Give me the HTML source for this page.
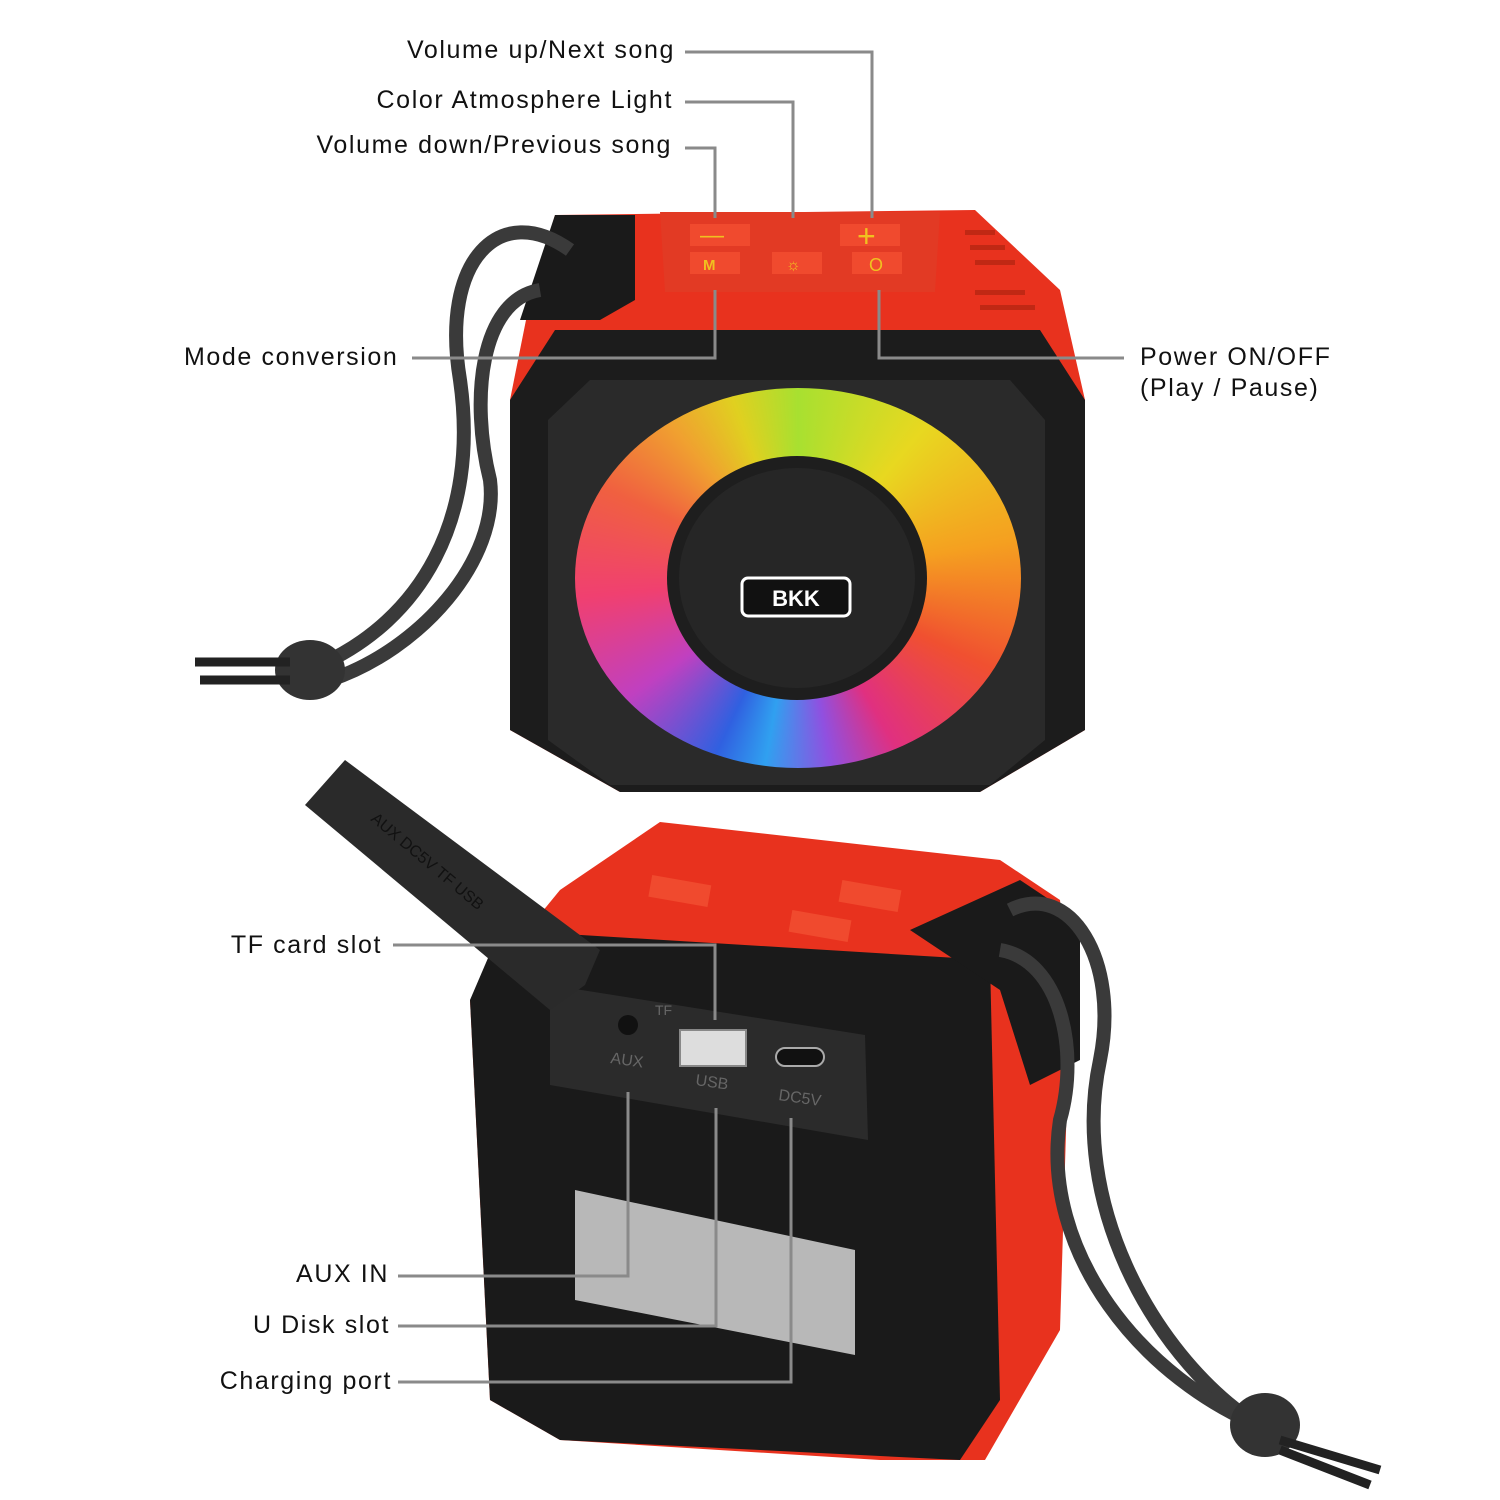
<!DOCTYPE html>
<html><head><meta charset="utf-8"><style>
html,body{margin:0;padding:0;background:#fff}
#w{position:relative;width:1500px;height:1500px;overflow:hidden;background:#fff;font-family:"Liberation Sans",sans-serif}
svg{position:absolute;left:0;top:0}
.ring{position:absolute;left:575px;top:388px;width:446px;height:380px;border-radius:50%;
background:conic-gradient(from 0deg,#a8e030,#e8d820 40deg,#f5a020 80deg,#f05030 115deg,#e03080 150deg,#9050e0 170deg,#30a0f0 190deg,#3060e0 205deg,#c040c0 235deg,#f04070 265deg,#f06040 295deg,#f0a030 320deg,#e0d020 340deg,#a8e030)}
.t{position:absolute;font-size:25px;color:#111;letter-spacing:1.6px;white-space:nowrap}
</style></head><body><div id="w">
<svg width="1500" height="1500">
<polygon points="555,215 975,210 1060,290 1085,400 1085,730 980,792 620,792 510,730 510,400 530,300" fill="#e8321e"/>
<polygon points="660,212 940,212 935,292 665,292" fill="#e23a24"/>
<polygon points="555,330 1040,330 1085,400 1085,730 980,792 620,792 510,730 510,400" fill="#1c1c1c"/>
<polygon points="590,380 1010,380 1045,420 1045,740 990,785 610,785 548,740 548,420" fill="#2a2a2a"/>
<rect x="690" y="224" width="60" height="22" fill="#f04a2e"/><rect x="840" y="224" width="60" height="22" fill="#f04a2e"/>
<rect x="690" y="252" width="50" height="22" fill="#f04a2e"/><rect x="772" y="252" width="50" height="22" fill="#f04a2e"/><rect x="852" y="252" width="50" height="22" fill="#f04a2e"/>
<text x="700" y="243" font-size="24" fill="#f0c020" font-family="Liberation Sans">—</text>
<text x="857" y="247" font-size="32" fill="#f0c020" font-family="Liberation Sans">+</text>
<text x="703" y="270" font-size="15" fill="#f0c020" font-family="Liberation Sans" font-weight="bold">M</text>
<text x="786" y="270" font-size="16" fill="#f0c020">☼</text>
<text x="869" y="271" font-size="18" fill="#f0c020" font-family="Liberation Sans">O</text>
<g fill="#c02814"><rect x="965" y="230" width="30" height="5"/><rect x="970" y="245" width="35" height="5"/><rect x="975" y="260" width="40" height="5"/><rect x="975" y="290" width="50" height="5"/><rect x="980" y="305" width="55" height="5"/></g>
<polygon points="555,215 635,215 635,300 600,320 520,320" fill="#1a1a1a"/>
<path d="M570,250 C500,200 440,260 460,380 C480,520 420,620 320,665" stroke="#3a3a3a" stroke-width="14" fill="none"/>
<path d="M540,290 C480,300 470,400 490,480 C500,560 420,650 330,680" stroke="#3a3a3a" stroke-width="14" fill="none"/>
<ellipse cx="310" cy="670" rx="35" ry="30" fill="#333"/>
<path d="M195,662 L290,662 M200,680 L290,680" stroke="#222" stroke-width="9"/>
<polygon points="560,890 660,822 1000,860 1060,900 1070,1000 1060,1330 985,1460 880,1460 560,1440 490,1400 470,1000" fill="#e8321e"/>
<polygon points="500,930 990,960 1000,1400 960,1460 560,1440 490,1400 470,1000" fill="#1a1a1a"/>
<polygon points="550,985 865,1035 868,1140 550,1085" fill="#2b2b2b"/>
<polygon points="575,1190 855,1250 855,1355 575,1300" fill="#b8b8b8"/>
<circle cx="628" cy="1025" r="10" fill="#111"/>
<rect x="680" y="1030" width="66" height="36" fill="#ddd" stroke="#888" stroke-width="2"/>
<rect x="776" y="1048" width="48" height="18" rx="9" fill="#111" stroke="#aaa" stroke-width="2"/>
<text x="610" y="1063" font-size="16" fill="#666" transform="rotate(8 610 1063)">AUX</text>
<text x="695" y="1085" font-size="16" fill="#666" transform="rotate(8 695 1085)">USB</text>
<text x="778" y="1100" font-size="16" fill="#666" transform="rotate(8 778 1100)">DC5V</text>
<text x="655" y="1015" font-size="14" fill="#666">TF</text>
<g fill="#f04a2e"><rect x="650" y="880" width="60" height="22" transform="rotate(10 680 890)"/><rect x="840" y="885" width="60" height="22" transform="rotate(10 870 896)"/><rect x="790" y="915" width="60" height="22" transform="rotate(10 820 926)"/></g>
<polygon points="305,805 345,760 600,950 585,985 550,1010" fill="#2a2a2a"/>
<text x="370" y="820" font-size="16" fill="#111" transform="rotate(40 370 820)">AUX DC5V TF USB</text>
<polygon points="910,930 1020,880 1080,920 1080,1060 1030,1085 1000,990" fill="#1a1a1a"/>
<path d="M1010,910 C1070,880 1120,960 1100,1060 C1070,1200 1150,1350 1250,1420" stroke="#3a3a3a" stroke-width="14" fill="none"/>
<path d="M1000,950 C1060,960 1080,1050 1060,1120 C1040,1250 1140,1380 1270,1430" stroke="#3a3a3a" stroke-width="14" fill="none"/>
<ellipse cx="1265" cy="1425" rx="35" ry="32" fill="#333"/>
<path d="M1280,1440 L1380,1470 M1280,1450 L1370,1485" stroke="#222" stroke-width="9"/>
</svg>
<div class="ring"></div>
<svg width="1500" height="1500">
<ellipse cx="797" cy="578" rx="130" ry="122" fill="#1e1e1e"/>
<ellipse cx="797" cy="578" rx="118" ry="110" fill="#262626"/>
<rect x="742" y="578" width="108" height="38" rx="6" fill="#111" stroke="#fff" stroke-width="3"/>
<text x="796" y="606" font-size="22" fill="#fff" font-weight="bold" text-anchor="middle" font-family="Liberation Sans">BKK</text>
<g stroke="#8a8a8a" stroke-width="3" fill="none">
<polyline points="685,52 872,52 872,218"/>
<polyline points="685,102 793,102 793,218"/>
<polyline points="685,148 715,148 715,218"/>
<polyline points="412,358 715,358 715,290"/>
<polyline points="879,290 879,358 1124,358"/>
<polyline points="393,945 715,945 715,1020"/>
<polyline points="398,1276 628,1276 628,1092"/>
<polyline points="398,1326 716,1326 716,1108"/>
<polyline points="398,1382 791,1382 791,1118"/>
</g>
</svg>
<div class="t" style="right:825px;top:36px">Volume up/Next song</div>
<div class="t" style="right:827px;top:86px">Color Atmosphere Light</div>
<div class="t" style="right:828px;top:131px">Volume down/Previous song</div>
<div class="t" style="left:184px;top:343px">Mode conversion</div>
<div class="t" style="left:1140px;top:343px">Power ON/OFF</div>
<div class="t" style="left:1140px;top:374px">(Play / Pause)</div>
<div class="t" style="right:1118px;top:931px">TF card slot</div>
<div class="t" style="right:1111px;top:1260px">AUX IN</div>
<div class="t" style="right:1110px;top:1311px">U Disk slot</div>
<div class="t" style="right:1108px;top:1367px">Charging port</div>
</div></body></html>
